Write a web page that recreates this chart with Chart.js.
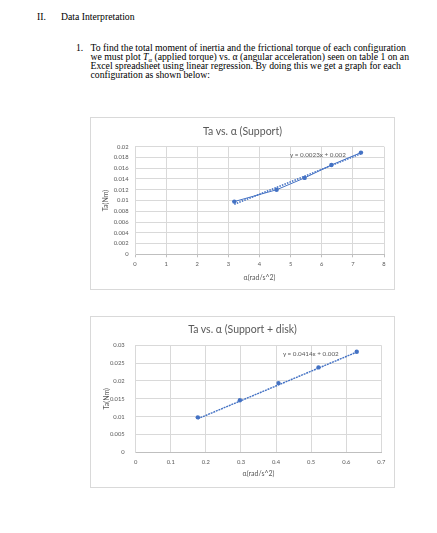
<!DOCTYPE html>
<html>
<head>
<meta charset="utf-8">
<script src="https://cdn.jsdelivr.net/npm/chart.js@4.4.0/dist/chart.umd.min.js"></script>
<style>
  body { margin: 0; background: #fff; width: 437px; height: 533px; position: relative; overflow: hidden; }
  .doc { position: absolute; font-family: "Liberation Serif", "Times New Roman", serif; font-size: 9.6px; line-height: 10px; color: #000; white-space: nowrap; }
  .doc sub { font-size: 0.7em; vertical-align: -2px; }
  .box { position: absolute; left: 90px; width: 305px; border: 1px solid #d9d9d9; box-sizing: border-box; }
  .cv { position: absolute; left: 90px; }
  .lbl { position: absolute; font-family: Lato, sans-serif; color: #595959; white-space: nowrap; transform: translate(-50%, -50%); }
  .ttl { font-size: 10.5px; }
  .eq { font-size: 6.3px; }
</style>
</head>
<body>
<div class="doc" style="left:37px; top:11.7px;">II.</div>
<div class="doc" style="left:61px; top:11.7px;">Data Interpretation</div>
<div class="doc" style="left:76px; top:42.5px;">1.</div>
<div class="doc" id="line1" style="left:90.5px; top:42.5px;">To find the total moment of inertia and the frictional torque of each configuration</div>
<div class="doc" style="left:90.5px; top:51.7px;">we must plot <i>T</i><sub><i>α</i></sub> (applied torque) vs. α (angular acceleration) seen on table 1 on an</div>
<div class="doc" style="left:90.5px; top:60.9px;">Excel spreadsheet using linear regression. By doing this we get a graph for each</div>
<div class="doc" style="left:90.5px; top:70.1px;">configuration as shown below:</div>

<div class="box" style="top:117px; height:173px;"></div>
<canvas id="chart1" class="cv" style="top:117px;" width="305" height="173"></canvas>
<div class="lbl ttl" style="left:242.5px; top:130.7px;">Ta vs. α (Support)</div>
<div class="lbl eq" style="left:318px; top:154.3px;">y = 0.0023x + 0.002</div>

<div class="box" style="top:316px; height:172px;"></div>
<canvas id="chart2" class="cv" style="top:316px;" width="305" height="172"></canvas>
<div class="lbl ttl" style="left:242.5px; top:329.3px;">Ta vs. α (Support + disk)</div>
<div class="lbl eq" style="left:310.8px; top:353.3px;">y = 0.0414x + 0.002</div>

<script>
// Support only
var alpha1 = [3.19, 4.55, 5.45, 6.31, 7.26];
var torque1 = [0.0098, 0.0120, 0.0142, 0.0166, 0.0189];
var trendX1 = [3.19, 7.26];
var trendY1 = [0.0093, 0.0187];
var xTicks1 = [0, 1, 2, 3, 4, 5, 6, 7, 8];
var xLabels1 = ['0', '1', '2', '3', '4', '5', '6', '7', '8'];
var yTicks1 = [0, 0.002, 0.004, 0.006, 0.008, 0.01, 0.012, 0.014, 0.016, 0.018, 0.02];
var yLabels1 = ['0', '0.002', '0.004', '0.006', '0.008', '0.01', '0.012', '0.014', '0.016', '0.018', '0.02'];

// Support + disk
var alpha2 = [0.177, 0.297, 0.407, 0.521, 0.630];
var torque2 = [0.0098, 0.0146, 0.0194, 0.0238, 0.0282];
var trendX2 = [0.177, 0.630];
var trendY2 = [0.0094, 0.0281];
var xTicks2 = [0, 0.1, 0.2, 0.3, 0.4, 0.5, 0.6, 0.7];
var xLabels2 = ['0', '0.1', '0.2', '0.3', '0.4', '0.5', '0.6', '0.7'];
var yTicks2 = [0, 0.005, 0.01, 0.015, 0.02, 0.025, 0.03];
var yLabels2 = ['0', '0.005', '0.01', '0.015', '0.02', '0.025', '0.03'];

var blue = '#4472C4';
var gridGray = '#d9d9d9';
var textGray = '#595959';
Chart.defaults.font.family = 'Lato';
Chart.defaults.color = textGray;

// one font size for the page text, taken from the width of the first line in the scan
(function () {
    var l1 = document.getElementById('line1');
    var fs = 9.6 * 315.5 / l1.getBoundingClientRect().width;
    document.querySelectorAll('.doc').forEach(function (el) { el.style.fontSize = fs + 'px'; });
})();

function pts(xs, ys) {
    return xs.map(function (x, i) { return { x: x, y: ys[i] }; });
}

function makeChart(id, o) {
    return new Chart(document.getElementById(id), {
        type: 'scatter',
        data: { datasets: o.datasets },
        options: {
            responsive: false,
            animation: false,
            layout: { padding: { left: 0, top: o.top, right: o.right, bottom: 0 } },
            plugins: { legend: { display: false }, tooltip: { enabled: false } },
            scales: {
                x: {
                    type: 'linear',
                    min: o.xTicks[0],
                    max: o.xTicks[o.xTicks.length - 1],
                    afterBuildTicks: function (s) { s.ticks = o.xTicks.map(function (v) { return { value: v }; }); },
                    afterFit: function (s) { s.height = o.xHeight; },
                    grid: { color: gridGray, lineWidth: 1, drawTicks: o.xTickLen > 0, tickLength: o.xTickLen, tickColor: '#bfbfbf' },
                    border: { color: '#bfbfbf', width: 1 },
                    ticks: {
                        font: { size: 5.8 }, padding: o.xPad, maxRotation: 0, autoSkip: false,
                        callback: function (v, i) { return o.xLabels[i]; }
                    },
                    title: { display: true, text: 'α(rad/s^2)', font: { size: 7, lineHeight: 1.2 }, padding: { top: 0, bottom: o.xTitlePad } }
                },
                y: {
                    type: 'linear',
                    min: o.yTicks[0],
                    max: o.yTicks[o.yTicks.length - 1],
                    afterBuildTicks: function (s) { s.ticks = o.yTicks.map(function (v) { return { value: v }; }); },
                    afterFit: function (s) { s.width = o.yWidth; },
                    grid: { color: gridGray, lineWidth: 1, drawTicks: false },
                    border: { color: gridGray, width: 1 },
                    ticks: {
                        font: { size: 5.8 }, padding: o.yPad, autoSkip: false,
                        callback: function (v, i) { return o.yLabels[i]; }
                    },
                    title: { display: true, text: 'Ta(Nm)', font: { size: 7, lineHeight: 1.2 }, padding: { top: o.yTitlePad, bottom: 0 } }
                }
            }
        }
    });
}

makeChart('chart1', {
    top: 29.7, right: 11, xHeight: 35.7, yWidth: 45,
    xTickLen: 3, xPad: 3.2, xTitlePad: 7.8, yPad: 6.5, yTitlePad: 11.5,
    xTicks: xTicks1, xLabels: xLabels1, yTicks: yTicks1, yLabels: yLabels1,
    datasets: [
        { data: pts(alpha1, torque1), showLine: true, borderColor: blue, borderWidth: 1,
          pointRadius: 2.2, pointBackgroundColor: blue, pointBorderWidth: 0 },
        { data: pts(trendX1, trendY1), showLine: true, borderColor: blue, borderWidth: 1.5,
          borderDash: [1.5, 1.2], pointRadius: 0 }
    ]
});

makeChart('chart2', {
    top: 29.3, right: 13.7, xHeight: 35.7, yWidth: 45.7,
    xTickLen: 0, xPad: 6, xTitlePad: 9.8, yPad: 11, yTitlePad: 12.5,
    xTicks: xTicks2, xLabels: xLabels2, yTicks: yTicks2, yLabels: yLabels2,
    datasets: [
        { data: pts(alpha2, torque2), showLine: false,
          pointRadius: 2.2, pointBackgroundColor: blue, pointBorderWidth: 0 },
        { data: pts(trendX2, trendY2), showLine: true, borderColor: blue, borderWidth: 1.4,
          borderDash: [2, 0.8], pointRadius: 0 }
    ]
});
</script>
</body>
</html>
